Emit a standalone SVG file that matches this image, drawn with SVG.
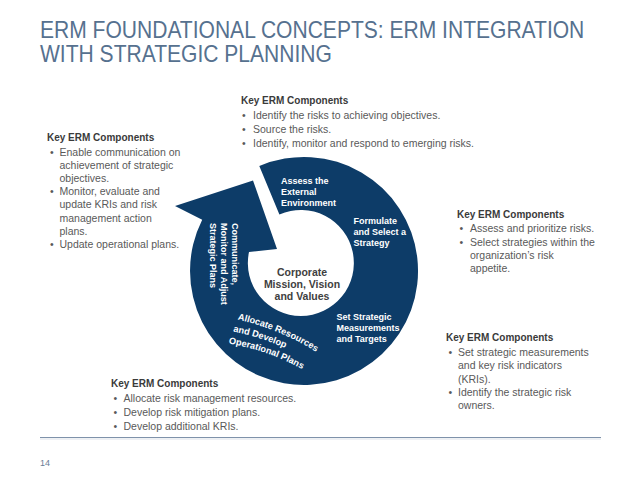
<svg xmlns="http://www.w3.org/2000/svg" width="638" height="478" viewBox="0 0 638 478">
<style>
.t{font-family:"Liberation Sans",Arial,sans-serif}
.title{font-size:24px;fill:#56718f}
.hd{font-size:10px;font-weight:bold;fill:#3a3a3a}
.bd{font-size:10.5px;fill:#595959}
.rw{font-size:9px;font-weight:bold;fill:#ffffff}
.rw2{font-size:9.2px;font-weight:bold;fill:#ffffff}
.ctr{font-size:10.5px;font-weight:bold;fill:#404040;text-anchor:middle}
.ring{fill:#0d3c68}
</style>
<defs>
<path id="arcA" d="M 237.5 319.5 A 251 251 0 0 1 345 373"/>
<path id="arcB" d="M 233 331.5 A 238.5 238.5 0 0 1 338 381"/>
<path id="arcC" d="M 228.5 343.5 A 226 226 0 0 1 333 390"/>
</defs>
<rect width="638" height="478" fill="#ffffff"/>

<g id="title" class="t title" transform="translate(40,0) scale(0.877,1)">
<text x="0" y="38">ERM FOUNDATIONAL CONCEPTS: ERM INTEGRATION</text>
<text x="0" y="62">WITH STRATEGIC PLANNING</text>
</g>

<g id="cycle">
<path class="ring" d="M 259.3 166.1 A 114 114 0 1 1 202.2 219.7 L 175 206 L 253 180.5 L 277 249 L 249 252 A 53 53 0 1 0 279.4 214.5 Z"/>
</g>

<g id="center" class="t ctr">
<text x="302" y="275.5">Corporate</text>
<text x="302" y="287.5">Mission, Vision</text>
<text x="302" y="300">and Values</text>
</g>

<g id="step-assess" class="t rw">
<text x="281" y="184">Assess the</text>
<text x="281" y="195">External</text>
<text x="281" y="206">Environment</text>
</g>

<g id="step-formulate" class="t rw">
<text x="353.5" y="224">Formulate</text>
<text x="353.5" y="234.8">and Select a</text>
<text x="353.5" y="245.6">Strategy</text>
</g>

<g id="step-set" class="t rw">
<text x="336.5" y="320">Set Strategic</text>
<text x="336.5" y="331">Measurements</text>
<text x="336.5" y="342">and Targets</text>
</g>

<g id="step-allocate" class="t rw2">
<text><textPath href="#arcA">Allocate Resources</textPath></text>
<text><textPath href="#arcB">and Develop</textPath></text>
<text><textPath href="#arcC">Operational Plans</textPath></text>
</g>

<g id="step-communicate" class="t rw" transform="translate(231.5,223) rotate(90)">
<text x="0" y="0">Communicate,</text>
<text x="0" y="11">Monitor and Adjust</text>
<text x="0" y="22">Strategic Plans</text>
</g>

<g id="box-top" class="t">
<text class="hd" x="241" y="104">Key ERM Components</text>
<text class="bd" x="242" y="118.7">•</text><text class="bd" x="253" y="118.7">Identify the risks to achieving objectives.</text>
<text class="bd" x="242" y="133.3">•</text><text class="bd" x="253" y="133.3">Source the risks.</text>
<text class="bd" x="242" y="147.3">•</text><text class="bd" x="253" y="147.3">Identify, monitor and respond to emerging risks.</text>
</g>

<g id="box-left" class="t">
<text class="hd" x="47" y="140.5">Key ERM Components</text>
<text class="bd" x="50" y="155.5">•</text><text class="bd" x="59.5" y="155.5">Enable communication on</text>
<text class="bd" x="59.5" y="168.7">achievement of strategic</text>
<text class="bd" x="59.5" y="181.9">objectives.</text>
<text class="bd" x="50" y="195.1">•</text><text class="bd" x="59.5" y="195.1">Monitor, evaluate and</text>
<text class="bd" x="59.5" y="208.3">update KRIs and risk</text>
<text class="bd" x="59.5" y="221.5">management action</text>
<text class="bd" x="59.5" y="234.7">plans.</text>
<text class="bd" x="50" y="247.9">•</text><text class="bd" x="59.5" y="247.9">Update operational plans.</text>
</g>

<g id="box-right" class="t">
<text class="hd" x="457" y="217.5">Key ERM Components</text>
<text class="bd" x="459.5" y="232">•</text><text class="bd" x="470" y="232">Assess and prioritize risks.</text>
<text class="bd" x="459.5" y="245.5">•</text><text class="bd" x="470" y="245.5">Select strategies within the</text>
<text class="bd" x="470" y="258.8">organization’s risk</text>
<text class="bd" x="470" y="272">appetite.</text>
</g>

<g id="box-bottom-right" class="t">
<text class="hd" x="446" y="341">Key ERM Components</text>
<text class="bd" x="448.5" y="356">•</text><text class="bd" x="458" y="356">Set strategic measurements</text>
<text class="bd" x="458" y="369.3">and key risk indicators</text>
<text class="bd" x="458" y="382.6">(KRIs).</text>
<text class="bd" x="448.5" y="396">•</text><text class="bd" x="458" y="396">Identify the strategic risk</text>
<text class="bd" x="458" y="409.3">owners.</text>
</g>

<g id="box-bottom" class="t">
<text class="hd" x="111" y="387">Key ERM Components</text>
<text class="bd" x="113.5" y="401.5">•</text><text class="bd" x="123.5" y="401.5">Allocate risk management resources.</text>
<text class="bd" x="113.5" y="415.5">•</text><text class="bd" x="123.5" y="415.5">Develop risk mitigation plans.</text>
<text class="bd" x="113.5" y="429.5">•</text><text class="bd" x="123.5" y="429.5">Develop additional KRIs.</text>
</g>

<g id="footer">
<line x1="40" y1="437.5" x2="601" y2="437.5" stroke="#7f92aa" stroke-width="1.2"/>
<line x1="40" y1="439" x2="601" y2="439" stroke="#dde2e9" stroke-width="1"/>
<text class="t" x="40" y="466" font-size="9" fill="#6a7d96">14</text>
</g>
</svg>
